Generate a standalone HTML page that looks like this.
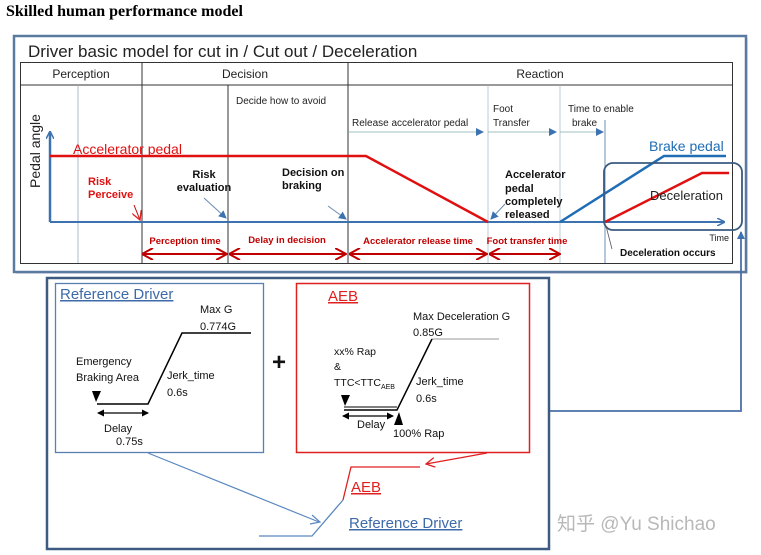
<!DOCTYPE html>
<html><head><meta charset="utf-8"><style>
html,body{margin:0;padding:0;background:#fff;width:761px;height:555px;overflow:hidden}
svg{display:block}
text{font-family:"Liberation Sans",Arial,sans-serif}
</style></head><body>
<svg width="761" height="555" viewBox="0 0 761 555" xmlns="http://www.w3.org/2000/svg">
<defs>
<marker id="ab" markerWidth="8" markerHeight="8" refX="7" refY="4" orient="auto" markerUnits="userSpaceOnUse"><path d="M0,0 L8,4 L0,8" fill="none" stroke="#3d72b0" stroke-width="1.5"/></marker>
<marker id="abf" markerWidth="8" markerHeight="8" refX="7" refY="4" orient="auto" markerUnits="userSpaceOnUse"><path d="M0,0 L8,4 L0,8 z" fill="#3d72b0"/></marker>
<marker id="ar" markerWidth="12" markerHeight="12" refX="11" refY="6" orient="auto" markerUnits="userSpaceOnUse"><path d="M0,0 L11,6 L0,12" fill="none" stroke="#c00000" stroke-width="2"/></marker>
<marker id="ar2" markerWidth="12" markerHeight="12" refX="1" refY="6" orient="auto" markerUnits="userSpaceOnUse"><path d="M11,0 L0,6 L11,12" fill="none" stroke="#c00000" stroke-width="2"/></marker>
<marker id="ak" markerWidth="7" markerHeight="7" refX="6" refY="3.5" orient="auto" markerUnits="userSpaceOnUse"><path d="M0,0 L7,3.5 L0,7 z" fill="#000"/></marker>
<marker id="ak2" markerWidth="7" markerHeight="7" refX="1" refY="3.5" orient="auto" markerUnits="userSpaceOnUse"><path d="M7,0 L0,3.5 L7,7 z" fill="#000"/></marker>
<marker id="arr" markerWidth="10" markerHeight="10" refX="9" refY="5" orient="auto" markerUnits="userSpaceOnUse"><path d="M0,0 L9,5 L0,10" fill="none" stroke="#e02020" stroke-width="1.3"/></marker>
</defs>
<text x="6" y="16" font-family="Liberation Serif" font-weight="bold" font-size="16" style="font-family:'Liberation Serif',serif">Skilled human performance model</text>

<!-- top box -->
<rect x="16" y="38" width="732" height="236" fill="#ccd" opacity="0.5"/>
<rect x="14" y="36" width="732" height="236" fill="#fff" stroke="#5a7aa2" stroke-width="2.5"/>
<text x="28" y="57" font-size="17" fill="#222">Driver basic model for cut in / Cut out / Deceleration</text>
<rect x="20.5" y="62.5" width="712" height="201" fill="none" stroke="#333" stroke-width="1"/>
<line x1="20" y1="85" x2="733" y2="85" stroke="#333"/>
<line x1="142" y1="62" x2="142" y2="263" stroke="#333"/>
<line x1="348" y1="62" x2="348" y2="263" stroke="#333"/>
<line x1="228" y1="85" x2="228" y2="263" stroke="#333"/>
<line x1="78" y1="85" x2="78" y2="263" stroke="#9ab" stroke-width="0.8"/>
<line x1="488" y1="85" x2="488" y2="263" stroke="#abc" stroke-width="0.8"/>
<line x1="560" y1="85" x2="560" y2="263" stroke="#abc" stroke-width="0.8"/>
<line x1="605" y1="120" x2="605" y2="263" stroke="#6e90b8" stroke-width="1"/>
<text x="81" y="78" font-size="12" text-anchor="middle" fill="#222">Perception</text>
<text x="245" y="78" font-size="12" text-anchor="middle" fill="#222">Decision</text>
<text x="540" y="78" font-size="12" text-anchor="middle" fill="#222">Reaction</text>
<text x="236" y="104" font-size="10" fill="#222">Decide how to avoid</text>
<text x="352" y="126" font-size="10" fill="#222">Release accelerator pedal</text>
<text x="493" y="112" font-size="10" fill="#222">Foot</text>
<text x="493" y="126" font-size="10" fill="#222">Transfer</text>
<text x="568" y="112" font-size="10" fill="#222">Time to enable</text>
<text x="572" y="126" font-size="10" fill="#222"> brake</text>
<line x1="348" y1="132" x2="483" y2="132" stroke="#8aa" stroke-width="0.8" marker-end="url(#abf)"/>
<line x1="488" y1="132" x2="556" y2="132" stroke="#8aa" stroke-width="0.8" marker-end="url(#abf)"/>
<line x1="560" y1="132" x2="603" y2="132" stroke="#8aa" stroke-width="0.8" marker-end="url(#abf)"/>

<!-- axes -->
<line x1="50" y1="222" x2="50" y2="132" stroke="#3d72b0" stroke-width="2.5" marker-end="url(#ab)"/>
<line x1="50" y1="222" x2="724" y2="222" stroke="#3d72b0" stroke-width="2" marker-end="url(#ab)"/>
<text x="40" y="188" font-size="14" fill="#222" transform="rotate(-90 40 188)">Pedal angle</text>
<text x="729" y="241" font-size="9" text-anchor="end" fill="#222">Time</text>
<polyline points="50,156 366,156 488,222" fill="none" stroke="#e01010" stroke-width="2.5"/>
<text x="73" y="154" font-size="14" fill="#e01010">Accelerator  pedal</text>
<polyline points="560,222 664,156 726,156" fill="none" stroke="#1f6db5" stroke-width="2.5"/>
<text x="649" y="151" font-size="14" fill="#1f6db5">Brake  pedal</text>
<polyline points="605,222 702,173 729,173" fill="none" stroke="#e01010" stroke-width="2.5"/>
<rect x="604" y="163" width="138" height="67" rx="9" fill="none" stroke="#3a5a80" stroke-width="1.8"/>
<text x="650" y="200" font-size="13" fill="#222">Deceleration</text>
<text x="620" y="256" font-size="10" font-weight="bold" fill="#111">Deceleration occurs</text>
<line x1="612" y1="249" x2="606" y2="226" stroke="#556" stroke-width="0.8"/>

<text x="88" y="185" font-size="11" font-weight="bold" fill="#e01010">Risk</text>
<text x="88" y="198" font-size="11" font-weight="bold" fill="#e01010">Perceive</text>
<line x1="134" y1="205" x2="140" y2="220" stroke="#c00" stroke-width="1" marker-end="url(#arr)"/>
<text x="204" y="178" font-size="11" font-weight="bold" text-anchor="middle" fill="#111">Risk</text>
<text x="204" y="191" font-size="11" font-weight="bold" text-anchor="middle" fill="#111">evaluation</text>
<line x1="204" y1="198" x2="226" y2="218" stroke="#6a8ab0" stroke-width="1" marker-end="url(#abf)"/>
<text x="282" y="176" font-size="11" font-weight="bold" fill="#111">Decision on</text>
<text x="282" y="189" font-size="11" font-weight="bold" fill="#111">braking</text>
<line x1="328" y1="206" x2="346" y2="219" stroke="#6a8ab0" stroke-width="1" marker-end="url(#abf)"/>
<text x="505" y="178" font-size="11" font-weight="bold" fill="#111">Accelerator</text>
<text x="505" y="192" font-size="11" font-weight="bold" fill="#111">pedal</text>
<text x="505" y="205" font-size="11" font-weight="bold" fill="#111">completely</text>
<text x="505" y="218" font-size="11" font-weight="bold" fill="#111">released</text>
<line x1="505" y1="204" x2="491" y2="219" stroke="#6a8ab0" stroke-width="1" marker-end="url(#abf)"/>

<text x="185" y="244" font-size="9.5" font-weight="bold" text-anchor="middle" fill="#c00000">Perception time</text>
<text x="287" y="243" font-size="9.5" font-weight="bold" text-anchor="middle" fill="#c00000">Delay in decision</text>
<text x="418" y="244" font-size="9.5" font-weight="bold" text-anchor="middle" fill="#c00000">Accelerator  release time</text>
<text x="527" y="244" font-size="9.5" font-weight="bold" text-anchor="middle" fill="#c00000">Foot transfer time</text>
<g stroke="#c00000" stroke-width="2" fill="none">
<line x1="143" y1="254" x2="227" y2="254" marker-end="url(#ar)" marker-start="url(#ar2)"/>
<line x1="230" y1="254" x2="346" y2="254" marker-end="url(#ar)" marker-start="url(#ar2)"/>
<line x1="350" y1="254" x2="487" y2="254" marker-end="url(#ar)" marker-start="url(#ar2)"/>
<line x1="490" y1="254" x2="560" y2="254" marker-end="url(#ar)" marker-start="url(#ar2)"/>
</g>

<!-- connector -->
<polyline points="549,411 741,411 741,232" fill="none" stroke="#4a70a8" stroke-width="1.8" marker-end="url(#abf)"/>

<!-- lower box -->
<rect x="47" y="278" width="502" height="271" fill="#fff" stroke="#3d5a80" stroke-width="2.5"/>
<rect x="55.5" y="283.5" width="208" height="169" fill="none" stroke="#5a80b0" stroke-width="1.3"/>
<text x="60" y="299" font-size="15" fill="#3d6aa8" text-decoration="underline">Reference Driver</text>
<text x="200" y="313" font-size="11" fill="#111">Max G</text>
<text x="200" y="330" font-size="11" fill="#111">0.774G</text>
<polyline points="97,404 148,404 182,333 251,333" fill="none" stroke="#000" stroke-width="1.5"/>
<text x="76" y="365" font-size="11" fill="#111">Emergency</text>
<text x="76" y="381" font-size="11" fill="#111">Braking Area</text>
<path d="M92,391 L101,391 L96,402 z" fill="#000"/>
<text x="167" y="379" font-size="11" fill="#111">Jerk_time</text>
<text x="167" y="396" font-size="11" fill="#111">0.6s</text>
<line x1="98" y1="413" x2="148" y2="413" stroke="#000" stroke-width="1.2" marker-end="url(#ak)" marker-start="url(#ak2)"/>
<text x="104" y="432" font-size="11" fill="#111">Delay</text>
<text x="116" y="445" font-size="11" fill="#111">0.75s</text>

<text x="272" y="370" font-size="24" font-weight="bold" fill="#111">+</text>

<rect x="296.5" y="283.5" width="233" height="169" fill="none" stroke="#e02020" stroke-width="1.5"/>
<text x="328" y="301" font-size="15" fill="#e02020" text-decoration="underline">AEB</text>
<text x="413" y="320" font-size="11" fill="#111">Max Deceleration  G</text>
<text x="413" y="336" font-size="11" fill="#111">0.85G</text>
<line x1="432" y1="339" x2="499" y2="339" stroke="#999" stroke-width="1"/>
<polyline points="344,410 397,410 432,339" fill="none" stroke="#000" stroke-width="1.5"/>
<line x1="344" y1="407" x2="397" y2="407" stroke="#000" stroke-width="1"/>
<text x="334" y="355" font-size="10.5" fill="#111">xx% Rap</text>
<text x="334" y="370" font-size="10.5" fill="#111">&amp;</text>
<text x="334" y="386" font-size="10.5" fill="#111">TTC&lt;TTC<tspan font-size="7" dy="3">AEB</tspan></text>
<path d="M341,395 L350,395 L345,406 z" fill="#000"/>
<path d="M394,425 L403,425 L399,412 z" fill="#000"/>
<text x="416" y="385" font-size="11" fill="#111">Jerk_time</text>
<text x="416" y="402" font-size="11" fill="#111">0.6s</text>
<line x1="343" y1="416" x2="393" y2="416" stroke="#000" stroke-width="1.2" marker-end="url(#ak)" marker-start="url(#ak2)"/>
<text x="357" y="428" font-size="11" fill="#111">Delay</text>
<text x="393" y="437" font-size="11" fill="#111">100% Rap</text>

<line x1="487" y1="453" x2="426" y2="464" stroke="#e02020" stroke-width="1.2" marker-end="url(#arr)"/>
<polyline points="420,467 351,467 343,500" fill="none" stroke="#e02020" stroke-width="1.3"/>
<text x="351" y="492" font-size="15" fill="#e02020" text-decoration="underline">AEB</text>
<line x1="148" y1="453" x2="319" y2="522" stroke="#5a88c0" stroke-width="1.2" marker-end="url(#arb)"/>
<path d="M312,515 L320,522 L310,524" fill="none" stroke="#5a88c0" stroke-width="1.2"/>
<polyline points="259,536 312,536 343,500" fill="none" stroke="#5a88c0" stroke-width="1.3"/>
<text x="349" y="528" font-size="15" fill="#3d6aa8" text-decoration="underline">Reference Driver</text>

<text x="557" y="530" font-size="19" fill="#b8b8b8" style="font-family:'Liberation Sans','Noto Sans CJK SC',sans-serif">知乎 @Yu Shichao</text>
</svg>
</body></html>
